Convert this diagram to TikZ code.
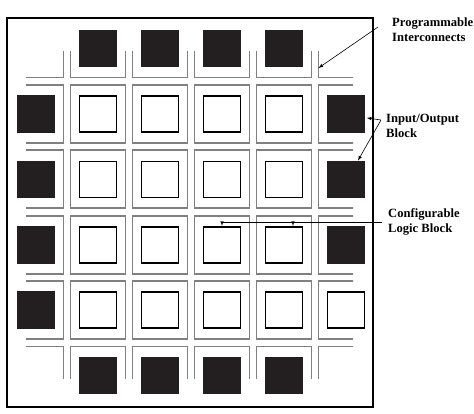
\documentclass[tikz,border=0pt]{standalone}
\usepackage{fontspec}
\setmainfont{Liberation Serif}
\usepackage{tikz}
\usetikzlibrary{matrix,arrows,positioning,calc}
\definecolor{wiregray}{gray}{0.5}
\definecolor{ioblack}{HTML}{231F20}

\begin{document}
\begin{tikzpicture}[x=1pt,y=-1pt,
        blk/.style={minimum width=37pt,minimum height=36pt,inner sep=0pt,line width=1.6pt},
        io/.style={blk,draw=ioblack,fill=ioblack},
        clb/.style={blk,draw=black,fill=white},
        wire/.style={draw=wiregray,line width=1.7pt},
        lbl/.style={anchor=north west,inner sep=0pt,align=left,font=\bfseries\fontsize{12.6}{15}\selectfont},
        ptr/.style={line width=0.6pt,-latex}]
    \useasboundingbox (0,0) rectangle (474,413);
    \draw[line width=1.8pt] (7,18) rectangle (373,407);     % chip outline

    % blocks - m-r-c, row 1 and 6 / column 1 and 6 are the I/O ring
    \matrix (m)[matrix of nodes, column sep={62pt,between origins}, row sep={65.4pt,between origins}, nodes={blk}] at (191,212) {
                & |[io]|  & |[io]|  & |[io]|  & |[io]|  &         \\
        |[io]|  & |[clb]| & |[clb]| & |[clb]| & |[clb]| & |[io]|  \\
        |[io]|  & |[clb]| & |[clb]| & |[clb]| & |[clb]| & |[io]|  \\
        |[io]|  & |[clb]| & |[clb]| & |[clb]| & |[clb]| & |[io]|  \\
        |[io]|  & |[clb]| & |[clb]| & |[clb]| & |[clb]| & |[clb]| \\
                & |[io]|  & |[io]|  & |[io]|  & |[io]|  &         \\
    };

    % interconnect channels - one frame per cell, cut off at the ring
    \begin{scope}
        \clip (26,51) rectangle (353,378);
        \foreach \r in {1,...,6}
            \foreach \c in {1,...,6}
                \draw[wire] ($(m-2-\c |- m-\r-2)+(-27.5,-29)$) rectangle ($(m-2-\c |- m-\r-2)+(27.5,29)$);
    \end{scope}

    \node[lbl] (pi-lbl) at (392,17.3) {Programmable\\Interconnects};
    \node[lbl] (io-lbl) at (386,114.3) {Input/Output\\Block};
    \node[lbl] (clb-lbl) at (388,208.3) {Configurable\\Logic Block};

    \coordinate (pi-tip) at (318.5,68);
    \draw[ptr] ($(pi-lbl.north west)+(-14,9.7)$) -- (pi-tip);                % to a channel
    \draw[ptr] ($(io-lbl.north west)+(-5,5.7)$) -- ($(m-2-6.east)+(1.5,4)$);  % to right I/O block
    \draw[ptr] ($(io-lbl.north west)+(-5,5.7)$) -- ($(m-3-6.north)+(12,0)$);
    \draw[ptr] ($(clb-lbl.west)+(-6,0)$) -| (m-4-4.north);                   % to logic blocks
    \draw[ptr] ($(m-4-5.north |- clb-lbl.west)+(9,0)$) -- ($(m-4-5.north)+(9,0)$);
\end{tikzpicture}
\end{document}
